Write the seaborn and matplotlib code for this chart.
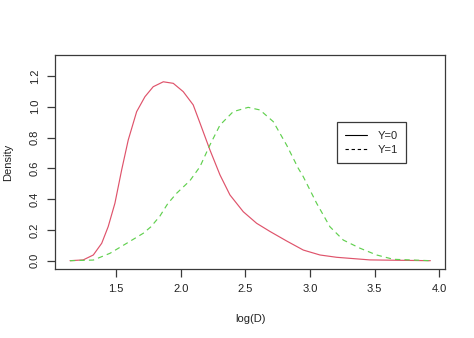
import matplotlib
matplotlib.use("Agg")
import matplotlib.pyplot as plt
from matplotlib.lines import Line2D
import seaborn as sns

# Kernel density estimates of log(D) for the two outcome groups
logd_y0 = [1.145, 1.247, 1.325, 1.39, 1.44, 1.492, 1.544, 1.595, 1.66, 1.724,
           1.788, 1.866, 1.943, 2.02, 2.097, 2.149, 2.226, 2.304, 2.381, 2.484,
           2.587, 2.69, 2.819, 2.948, 3.077, 3.206, 3.463, 3.93]
dens_y0 = [0.0, 0.005, 0.037, 0.113, 0.221, 0.373, 0.589, 0.784, 0.968, 1.065,
           1.130, 1.162, 1.152, 1.098, 1.012, 0.895, 0.72, 0.557, 0.427, 0.318,
           0.243, 0.19, 0.128, 0.069, 0.037, 0.022, 0.005, 0.0]

logd_y1 = [1.145, 1.325, 1.454, 1.583, 1.711, 1.77, 1.84, 1.90, 1.969, 2.072,
           2.149, 2.226, 2.304, 2.406, 2.522, 2.613, 2.716, 2.819, 2.909, 2.948,
           3.051, 3.154, 3.257, 3.386, 3.515, 3.644, 3.93]
dens_y1 = [0.0, 0.004, 0.048, 0.113, 0.178, 0.22, 0.29, 0.37, 0.438, 0.52,
           0.61, 0.751, 0.881, 0.968, 0.996, 0.979, 0.903, 0.751, 0.60, 0.545,
           0.373, 0.22, 0.134, 0.081, 0.037, 0.009, 0.0]

group_labels = ["Y=0", "Y=1"]
x_ticks = [1.5, 2.0, 2.5, 3.0, 3.5, 4.0]
y_ticks = [0.0, 0.2, 0.4, 0.6, 0.8, 1.0, 1.2]

sns.set_theme(style="white")
plt.rcParams["font.family"] = ["Liberation Sans", "DejaVu Sans"]
plt.rcParams["font.size"] = 8

fig = plt.figure(figsize=(4.74, 3.38), dpi=100)
ax = fig.add_axes([55 / 474, 1 - 269 / 338, 390 / 474, 214 / 338])

red = "#DF536B"
green = "#61D04F"

sns.lineplot(x=logd_y0, y=dens_y0, ax=ax, color=red, linewidth=0.85,
             sort=False, estimator=None)
sns.lineplot(x=logd_y1, y=dens_y1, ax=ax, color=green, linewidth=0.85,
             sort=False, estimator=None)
ax.lines[-1].set_dashes((4.5, 3.5))

ax.set_xlim(1.029, 4.043)
ax.set_ylim(-0.054, 1.336)
ax.set_xticks(x_ticks)
ax.set_xticklabels([f"{v:.1f}" for v in x_ticks])
ax.set_yticks(y_ticks)
ax.set_yticklabels([f"{v:.1f}" for v in y_ticks], rotation=90, va="center")

edge = "#3a3a3a"
for s in ax.spines.values():
    s.set_color(edge)
    s.set_linewidth(0.9)
ax.tick_params(axis="both", direction="out", length=6, width=0.9,
               color=edge, labelsize=8, labelcolor="#222222",
               bottom=True, left=True)
ax.tick_params(axis="x", pad=5)
ax.tick_params(axis="y", pad=5)

ax.set_xlabel("log(D)", fontsize=8, labelpad=14, color="#222222")
ax.set_ylabel("Density", fontsize=8, labelpad=12, color="#222222")

handles = [Line2D([], [], color="black", linewidth=0.8),
           Line2D([], [], color="black", linewidth=0.8, dashes=(3, 2.5))]
leg = ax.legend(handles, group_labels, loc="upper left",
                bbox_to_anchor=((336.7 - 55) / 390, 1 - (122.3 - 55) / 214),
                frameon=True, fancybox=False, edgecolor=edge,
                framealpha=1, borderpad=0.75, handlelength=2.0,
                handletextpad=0.9, labelspacing=0.4, fontsize=8,
                borderaxespad=0)
leg.get_frame().set_linewidth(0.9)

fig.savefig("out.png", dpi=100)
